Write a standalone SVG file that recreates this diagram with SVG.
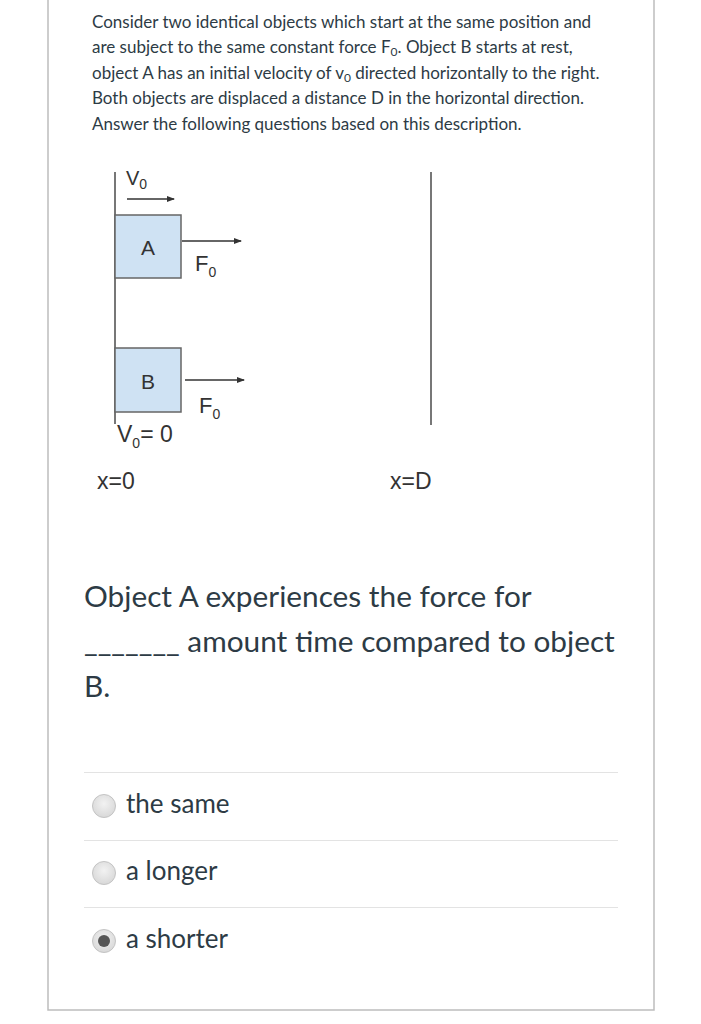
<svg xmlns="http://www.w3.org/2000/svg" width="701" height="1024" viewBox="0 0 701 1024">
<defs>
<marker id="ah" markerWidth="8" markerHeight="6" refX="7" refY="3" orient="auto" markerUnits="userSpaceOnUse">
<path d="M0,0 L8,3 L0,6 Z" fill="#333"/>
</marker>
<radialGradient id="rg" cx="50%" cy="40%" r="60%">
<stop offset="0" stop-color="#f2f2f2"/>
<stop offset="1" stop-color="#d8d8d8"/>
</radialGradient>
</defs>
<style>
.p{font-family:Lato,"Liberation Sans",sans-serif;font-size:17px;fill:#2d3b45}
.q{font-family:Lato,"Liberation Sans",sans-serif;font-size:29.8px;fill:#2d3b45}
.o{font-family:Lato,"Liberation Sans",sans-serif;font-size:26px;fill:#2d3b45}
.d{font-family:Arial,"Liberation Sans",sans-serif;fill:#333}
.ln{stroke:#555;stroke-width:1.6}
.box{fill:#cfe2f3;stroke:#666;stroke-width:1.5}
.arr{stroke:#333;stroke-width:1.3;marker-end:url(#ah)}
.sep{stroke:#e3e3e3;stroke-width:1.2}
.radio{fill:url(#rg);stroke:#c4c4c4;stroke-width:1}
</style>
<rect x="0" y="0" width="701" height="1024" fill="#fff"/>
<path d="M48,0 V1010 H654 V0" fill="none" stroke="#bdbdbd" stroke-width="1.5"/>
<g id="intro">
<text class="p" x="92" y="27.5">Consider two identical objects which start at the same position and</text>
<text class="p" x="92" y="53">are subject to the same constant force F<tspan font-size="12" dy="3">0</tspan><tspan dy="-3">. Object B starts at rest,</tspan></text>
<text class="p" x="92" y="78.5">object A has an initial velocity of v<tspan font-size="12" dy="3">0</tspan><tspan dy="-3"> directed horizontally to the right.</tspan></text>
<text class="p" x="92" y="104">Both objects are displaced a distance D in the horizontal direction.</text>
<text class="p" x="92" y="129.5">Answer the following questions based on this description.</text>
</g>
<g id="diagram">
<g id="wall-left"><line class="ln" x1="115" y1="172" x2="115" y2="424"/></g>
<g id="wall-right"><line class="ln" x1="431" y1="172" x2="431" y2="425"/></g>
<g id="boxA">
<rect class="box" x="115" y="215" width="66" height="63"/>
<text class="d" x="148" y="255" font-size="21" text-anchor="middle">A</text>
</g>
<g id="boxB">
<rect class="box" x="115" y="348" width="66" height="64"/>
<text class="d" x="148" y="389" font-size="21" text-anchor="middle">B</text>
</g>
<g id="labels">
<text class="d" x="126" y="185" font-size="20">V<tspan font-size="14" dy="4">0</tspan></text>
<text class="d" x="195" y="271" font-size="22">F<tspan font-size="14" dy="6">0</tspan></text>
<text class="d" x="199" y="413" font-size="22">F<tspan font-size="14" dy="6">0</tspan></text>
<text class="d" x="117" y="442" font-size="23">V<tspan font-size="14" dy="6">0</tspan><tspan dy="-6">= 0</tspan></text>
<text class="d" x="97" y="489" font-size="23">x=0</text>
<text class="d" x="390" y="489" font-size="23">x=D</text>
</g>
</g>
<g id="connectors">
<line class="arr" x1="127" y1="199" x2="174" y2="199"/>
<line class="arr" x1="182" y1="241" x2="241" y2="241"/>
<line class="arr" x1="185" y1="380" x2="244" y2="380"/>
</g>
<g id="question">
<text class="q" x="84" y="606.5">Object A experiences the force for</text>
<text class="q" x="84" y="651.5">_______ amount time compared to object</text>
<text class="q" x="84" y="696.5">B.</text>
</g>
<g id="options">
<line class="sep" x1="84" y1="772.5" x2="618" y2="772.5"/>
<line class="sep" x1="84" y1="840.5" x2="618" y2="840.5"/>
<line class="sep" x1="84" y1="907.5" x2="618" y2="907.5"/>
<g id="opt1"><circle class="radio" cx="104" cy="806" r="11.5"/><text class="o" x="126" y="813">the same</text></g>
<g id="opt2"><circle class="radio" cx="104" cy="873" r="11.5"/><text class="o" x="126" y="880">a longer</text></g>
<g id="opt3"><circle class="radio" cx="104" cy="941" r="11.5"/><circle cx="104" cy="941" r="6" fill="#555"/><text class="o" x="126" y="948">a shorter</text></g>
</g>
</svg>
